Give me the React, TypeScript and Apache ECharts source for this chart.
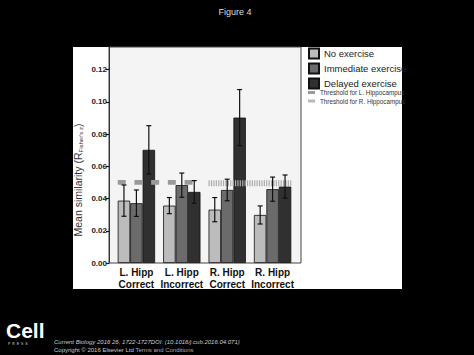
import React, { useEffect, useRef } from "react";
import * as echarts from "echarts";

const categories = ["L. Hipp\nCorrect", "L. Hipp\nIncorrect", "R. Hipp\nCorrect", "R. Hipp\nIncorrect"];
const seriesNames = ["No exercise", "Immediate exercise", "Delayed exercise"];
const noExercise = [0.0387, 0.0356, 0.0331, 0.0298];
const immediateExercise = [0.0371, 0.0483, 0.0453, 0.0458];
const delayedExercise = [0.0702, 0.0441, 0.0902, 0.0474];
const noExerciseErr = [0.0097, 0.0050, 0.0075, 0.0056];
const immediateExerciseErr = [0.0082, 0.0075, 0.0067, 0.0075];
const delayedExerciseErr = [0.0150, 0.0070, 0.0174, 0.0072];
const thresholdL = 0.05;
const thresholdR = 0.0495;
const yTicks = [0, 0.02, 0.04, 0.06, 0.08, 0.1, 0.12];

const FONT = "'Liberation Sans', Arial, sans-serif";
const barColors = ["#bcbcbc", "#6b6b6b", "#303030"];
const BAR_FRAC = 0.274;

export default function App() {
  const ref = useRef<HTMLDivElement>(null);
  useEffect(() => {
    if (!ref.current) return;
    const chart = echarts.init(ref.current, undefined, { renderer: "svg" });
    const values = [noExercise, immediateExercise, delayedExercise];
    const errs = [noExerciseErr, immediateExerciseErr, delayedExerciseErr];

    const gridLeft = 113.7;
    const gridRight = 474 - 295.3;
    const gridTop = 47;
    const gridBottom = 355 - 263;

    const barSeries = seriesNames.map((name, i) => ({
      name,
      type: "bar",
      xAxisIndex: 0,
      yAxisIndex: 0,
      barWidth: BAR_FRAC * 100 + "%",
      barGap: "0%",
      data: values[i],
      itemStyle: { color: barColors[i], borderColor: "#111", borderWidth: 0.8 },
      z: 3,
    }));

    const errSeries = seriesNames.map((name, i) => ({
      name: name + " error",
      type: "custom",
      xAxisIndex: 0,
      yAxisIndex: 0,
      z: 10,
      data: values[i].map((v, k) => [k, v, errs[i][k]]),
      renderItem: (params: any, api: any) => {
        const x = api.value(0);
        const y = api.value(1);
        const e = api.value(2);
        const cw = api.size([1, 0])[0];
        const off = (i - 1) * cw * BAR_FRAC;
        const hi = api.coord([x, y + e]);
        const lo = api.coord([x, y - e]);
        const cx = hi[0] + off;
        const cap = 2.5;
        const st = { stroke: "#111", lineWidth: 1.2 };
        return {
          type: "group",
          children: [
            { type: "line", shape: { x1: cx, y1: hi[1], x2: cx, y2: lo[1] }, style: st },
            { type: "line", shape: { x1: cx - cap, y1: hi[1], x2: cx + cap, y2: hi[1] }, style: st },
            { type: "line", shape: { x1: cx - cap, y1: lo[1], x2: cx + cap, y2: lo[1] }, style: st },
          ],
        };
      },
    }));

    const half = 1.5 * BAR_FRAC;
    const thresholdSeries = [
      {
        name: "Threshold for L. Hippocampus",
        type: "line",
        xAxisIndex: 1,
        yAxisIndex: 0,
        symbol: "none",
        z: 5,
        data: [
          [1 - half, thresholdL],
          [2 + half, thresholdL],
        ],
        lineStyle: { color: "#9a9a9a", width: 4.7, type: [8, 8.7], cap: "butt" },
        itemStyle: { color: "#9a9a9a" },
      },
      {
        name: "Threshold for R. Hippocampus",
        type: "line",
        xAxisIndex: 1,
        yAxisIndex: 0,
        symbol: "none",
        z: 5,
        data: [
          [3 - half, thresholdR],
          [4 + half, thresholdR],
        ],
        lineStyle: { color: "#acacac", width: 6, type: [1.2, 1.2], cap: "butt" },
        itemStyle: { color: "#b8b8b8" },
      },
    ];

    chart.setOption({
      animation: false,
      backgroundColor: "#000",
      textStyle: { fontFamily: FONT },
      grid: { left: gridLeft, right: gridRight, top: gridTop, bottom: gridBottom, containLabel: false },
      xAxis: [
        {
          type: "category",
          data: categories,
          axisLine: { show: false },
          axisTick: { show: false },
          axisLabel: {
            color: "#111",
            fontSize: 10,
            fontWeight: "bold",
            fontFamily: FONT,
            lineHeight: 12,
            margin: 3,
            interval: 0,
          },
        },
        { type: "value", min: 0.5, max: 4.5, show: false },
      ],
      yAxis: {
        type: "value",
        min: 0,
        max: 0.134,
        interval: 0.02,
        offset: 4.7,
        splitLine: { show: false },
        axisLine: { show: true, lineStyle: { color: "#333", width: 1 } },
        axisTick: { show: true, length: 3, lineStyle: { color: "#111", width: 1.2 } },
        axisLabel: {
          color: "#222",
          fontSize: 8,
          fontWeight: "bold",
          margin: 2,
          showMaxLabel: false,
          formatter: (v: number) =>
            yTicks.some((t) => Math.abs(t - v) < 1e-9) ? v.toFixed(2) : "",
        },
      },
      legend: [
        {
          data: seriesNames,
          orient: "vertical",
          left: 308,
          top: 47.5,
          padding: 0,
          itemWidth: 10,
          itemHeight: 10,
          itemGap: 3,
          icon: "rect",
          textStyle: { fontSize: 9.5, color: "#222", fontFamily: FONT },
          selectedMode: false,
        },
        {
          data: ["Threshold for L. Hippocampus", "Threshold for R. Hippocampus"],
          orient: "vertical",
          left: 308,
          top: 89.5,
          padding: 0,
          itemWidth: 7,
          itemHeight: 3,
          itemGap: 2.5,
          icon: "rect",
          textStyle: { fontSize: 6.3, color: "#333", fontFamily: FONT },
          selectedMode: false,
        },
      ],
      graphic: [
        {
          type: "rect",
          z: -10,
          silent: true,
          shape: { x: 73, y: 47, width: 329, height: 242 },
          style: { fill: "#fff" },
        },
        {
          type: "rect",
          z: -9,
          silent: true,
          shape: { x: 109, y: 47, width: 192, height: 216 },
          style: { fill: "#f4f4f4", stroke: "#444", lineWidth: 1 },
        },
        {
          type: "text",
          x: 235,
          y: 12,
          style: {
            text: "Figure 4",
            fill: "#ddd",
            fontSize: 9,
            fontFamily: FONT,
            align: "center",
            verticalAlign: "middle",
          },
        },
        {
          type: "text",
          x: 78,
          y: 180,
          rotation: Math.PI / 2,
          style: {
            text: "{a|Mean similarity (R}{b|Fisher's z}{a|)}",
            align: "center",
            verticalAlign: "middle",
            rich: {
              a: { fontSize: 10.5, fill: "#333", fontFamily: FONT },
              b: { fontSize: 6, fill: "#333", fontFamily: FONT, padding: [5, 0, 0, 0] },
            },
          },
        },
        {
          type: "text",
          x: 6,
          y: 320,
          style: { text: "Cell", fill: "#fff", fontSize: 21, fontWeight: "bold", fontFamily: FONT },
        },
        {
          type: "text",
          x: 8,
          y: 342,
          style: { text: "P  R  E  S  S", fill: "#ddd", fontSize: 3.5, fontFamily: FONT },
        },
        {
          type: "text",
          x: 54,
          y: 339,
          style: {
            text: "Current Biology 2016 26, 1722-1727DOI: (10.1016/j.cub.2016.04.071)",
            fill: "#ccc",
            fontSize: 6,
            fontStyle: "italic",
            fontFamily: FONT,
          },
        },
        {
          type: "text",
          x: 54,
          y: 346.5,
          style: {
            text: "{a|Copyright © 2016 Elsevier Ltd }{b|Terms and Conditions}",
            fontSize: 6,
            fontFamily: FONT,
            rich: {
              a: { fill: "#ccc", fontSize: 6, fontFamily: FONT },
              b: { fill: "#aab", fontSize: 6, fontFamily: FONT, textDecoration: "underline" },
            },
          },
        },
      ],
      series: [...barSeries, ...thresholdSeries, ...errSeries],
    });
    return () => chart.dispose();
  }, []);
  return (
    <div
      ref={ref}
      style={{ position: "fixed", left: 0, top: 0, width: 474, height: 355 }}
    />
  );
}
